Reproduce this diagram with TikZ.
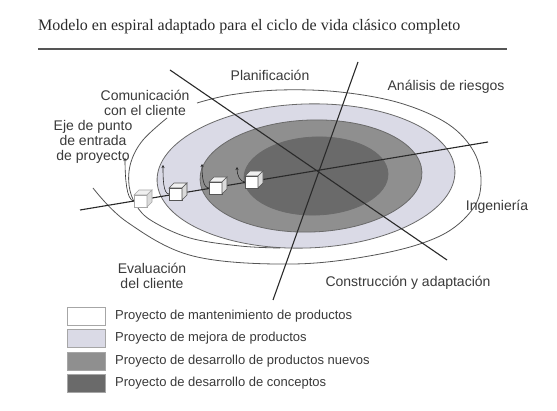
\documentclass[tikz,border=0pt]{standalone}
\usepackage{fontspec}
\setmainfont{Liberation Serif}
\newfontfamily\labfont{Liberation Sans}
\usetikzlibrary{arrows.meta}
\definecolor{lav}{HTML}{DADAE6}
\definecolor{midg}{HTML}{8F8F8F}
\definecolor{darkg}{HTML}{6A6A6A}
\definecolor{ink}{HTML}{2A2A2A}
\definecolor{txt}{HTML}{3A3A3A}
\begin{document}
\begin{tikzpicture}[x=1pt,y=-1pt,
 lbl/.style={font=\labfont\fontsize{14}{15}\selectfont, text=txt, inner sep=0pt, align=center},
 leg/.style={font=\labfont\fontsize{13}{14}\selectfont, text=txt, inner sep=0pt, anchor=west},
 legbox/.style={draw=gray!70, line width=0.6pt, minimum width=38pt, minimum height=18pt, inner sep=0pt},
 axisline/.style={draw=ink, line width=1.1pt},
 spiralline/.style={draw=ink!80, line width=0.8pt},
 band/.style={draw=ink!70, line width=0.8pt},
 entry/.style={draw=ink, line width=0.6pt, -{Stealth[length=3pt,width=3pt]}},
 cube/.pic={
  \draw[fill=white, line width=0.6pt] (-8,-3) rectangle (5,9);
  \draw[fill=gray!12, line width=0.6pt] (-8,-3) -- (-3,-8) -- (10,-8) -- (5,-3) -- cycle;
  \draw[fill=gray!28, line width=0.6pt] (5,-3) -- (10,-8) -- (10,4) -- (5,9) -- cycle;
 }
]
\path[use as bounding box, fill=white] (0,0) rectangle (557,411);

% title
\node[anchor=west, inner sep=0pt, font=\fontsize{16}{18}\selectfont, text=ink] (title) at (38,27) {Modelo en espiral adaptado para el ciclo de vida clásico completo};
\coordinate (ul1) at (38,49);
\coordinate (ul2) at (507,49);
\draw[ink!80, line width=1.2pt] (ul1) -- (ul2);

% bands
\draw[band, fill=lav, rotate around={2:(306,176)}] (306,176) ellipse [x radius=149pt, y radius=72pt];
\draw[band, fill=midg, rotate around={2:(311,176)}] (311,176) ellipse [x radius=111pt, y radius=56pt];
\draw[band, fill=darkg, rotate around={2:(316,176)}] (316,176) ellipse [x radius=72pt, y radius=39pt];

% spiral lines
\draw[spiralline] plot[smooth, tension=0.6] coordinates {(93,188) (127,222) (193,256) (293,264) (380,254) (440,236) (472,210) (481,183) (474,152) (448,124) (400,103) (340,92) (280,90) (230,95) (197,103)};
\draw[spiralline] plot[smooth, tension=0.6] coordinates {(167,118) (143,140) (131,162) (129,185) (136,205) (152,221) (190,238) (240,246) (280,248)};

% axes
\coordinate (a1) at (170,70);  \coordinate (a2) at (447,260);
\coordinate (b1) at (358,62);  \coordinate (b2) at (273,300);
\coordinate (h1) at (80,210);  \coordinate (h2) at (488,142);
\draw[axisline] (a1) -- (a2);
\draw[axisline] (b1) -- (b2);
\draw[axisline] (h1) -- (h2);

% cubes
\pic[draw=gray!70] at (142,198) {cube};
\pic[draw=ink!80] at (177,191) {cube};
\pic[draw=ink!80] at (217,185) {cube};
\pic[draw=ink!80] at (253,179) {cube};

% entry arrows
\coordinate (e1) at (134,201); \coordinate (d1) at (125,158);
\coordinate (e2) at (169,194); \coordinate (d2) at (163,165);
\coordinate (e3) at (209,188); \coordinate (d3) at (202,164);
\coordinate (e4) at (245,182); \coordinate (d4) at (237,167);
\draw[entry] (e1) .. controls +(-8,0) and +(0,16) .. (d1);
\draw[entry] (e2) .. controls +(-6,0) and +(0,12) .. (d2);
\draw[entry] (e3) .. controls +(-6,0) and +(0,12) .. (d3);
\draw[entry] (e4) .. controls +(-5,0) and +(0,8) .. (d4);

% labels
\node[lbl] (plan) at (270,75) {Planificación};
\node[lbl] (riesgo) at (446,87) {Análisis de riesgos};
\node[lbl] (ing) at (497,207) {Ingeniería};
\node[lbl] (cons) at (408,283) {Construcción y adaptación};
\node[lbl] (eval) at (152,276) {Evaluación\\del cliente};
\node[lbl] (com) at (145,103) {Comunicación\\con el cliente};
\node[lbl] (eje) at (93,142) {Eje de punto\\de entrada\\de proyecto};

% legend
\node[legbox, fill=white] (k1) at (86,316) {};
\node[legbox, fill=lav] (k2) at (86,338) {};
\node[legbox, fill=midg] (k3) at (86,361) {};
\node[legbox, fill=darkg] (k4) at (86,383) {};
\node[leg] (t1) at (115,316) {Proyecto de mantenimiento de productos};
\node[leg] (t2) at (115,338) {Proyecto de mejora de productos};
\node[leg] (t3) at (115,361) {Proyecto de desarrollo de productos nuevos};
\node[leg] (t4) at (115,383) {Proyecto de desarrollo de conceptos};
\end{tikzpicture}
\end{document}
